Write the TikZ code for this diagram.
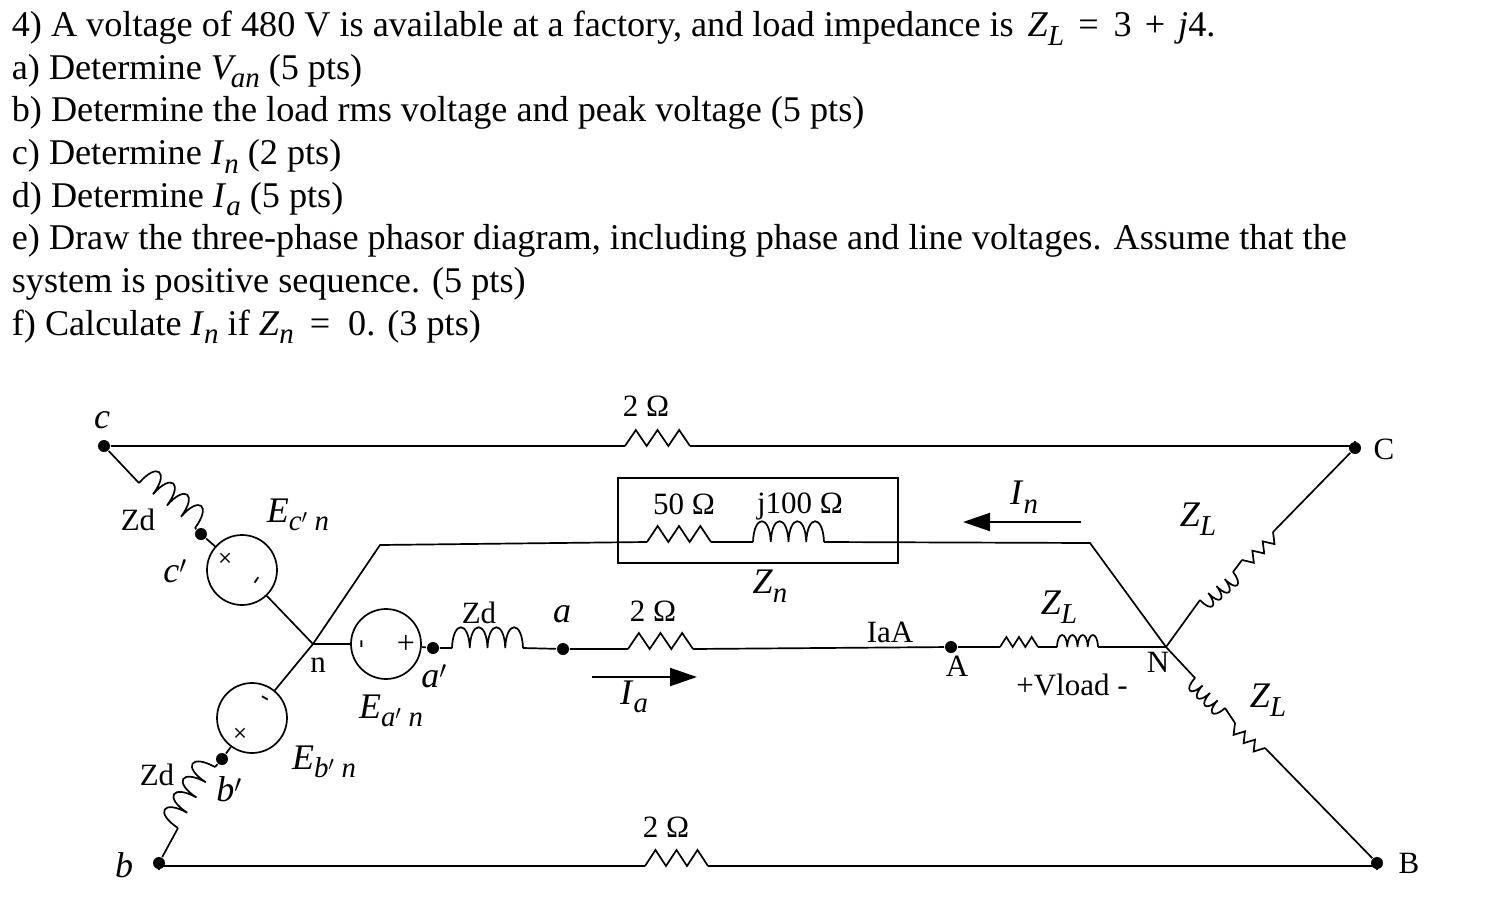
\documentclass[tikz,border=0pt]{standalone}
\usepackage{fontspec}
\setmainfont{Liberation Serif}
\usetikzlibrary{calc,arrows.meta}
\newcommand{\zsub}[2]{\textit{#1}\raisebox{-0.24em}{\scalebox{0.8}{\textit{#2}}}}
\newcommand{\drawcoil}[2]{\draw (#1) \foreach \k in {1,2,3,4} { to[hump] ($(#1)!\k/4!(#2)$) };}
\newcommand{\drawzig}[3]{\draw (#1) \foreach \k/\j in {1/2,3/4,5/6} { -- ($(#1)!\k/6!(#2)!#3pt!90:(#2)$) -- ($(#1)!\j/6!(#2)$) };}
\begin{document}
\begin{tikzpicture}[x=1pt, y=-1pt, line width=1.7pt, line join=miter,
	hump/.style = {bend left=88, looseness=4},
	dot/.style = {circle, fill, inner sep=0, minimum size=12pt},
	source/.style = {draw, circle, inner sep=0, minimum size=70pt},
	lab/.style = {inner sep=0, font=\fontsize{31}{36}\selectfont},
	vlab/.style = {inner sep=0, font=\fontsize{36}{42}\selectfont},
	sign/.style = {inner sep=0, font=\fontsize{26}{30}\selectfont},
	current/.style = {line width=2pt, -{Triangle[length=27pt,width=18pt]}}]

	\useasboundingbox (0,0) rectangle (1502,910);

	% question
	\node[inner sep=0, anchor=north west, align=left, font=\fontsize{36.2}{42.7}\selectfont] (question) at (11,10) {
		4) A voltage of 480 V is available at a factory, and load impedance is\hspace{5pt} \zsub{Z}{L}\hspace{14pt}=\hspace{15pt}3\hspace{13pt}+\hspace{13pt}\textit{j}4.\\
		a) Determine \zsub{V\kern-0.06em}{an} (5 pts)\\
		b) Determine the load rms voltage and peak voltage (5 pts)\\
		c) Determine \zsub{I}{n} (2 pts)\\
		d) Determine \zsub{I}{a} (5 pts)\\
		e) Draw the three-phase phasor diagram, including phase and line voltages. Assume that the\\
		system is positive sequence. (5 pts)\\
		f) Calculate \zsub{I}{n} if \zsub{Z}{n}\hspace{16pt}=\hspace{18pt}0. (3 pts)};

	% terminals
	\node[dot] (c) at (104,446) {};
	\node[dot] (C) at (1355,448) {};
	\node[dot] (b) at (159,863) {};
	\node[dot] (B) at (1377,863) {};
	\node[dot] (cp) at (201,534) {};
	\node[dot] (bp) at (222,759) {};
	\node[dot] (ap) at (433,648) {};
	\node[dot] (a) at (563,649) {};
	\node[dot] (A) at (951,647) {};

	% sources
	\node[source] (Ec) at (242,570) {};
	\node[source] (Eb) at (252,718) {};
	\node[source] (Ea) at (386,644) {};
	\coordinate (n) at (313,644);
	\coordinate (N) at (1166,647);

	% element ends
	\coordinate (rc1) at (625,446);
	\coordinate (rc2) at (690,446);
	\coordinate (rb1) at (645,866);
	\coordinate (rb2) at (708,866);
	\coordinate (ra1) at (628,649);
	\coordinate (ra2) at (693,649);
	\coordinate (rn1) at (647,542);
	\coordinate (rn2) at (711,542);
	\coordinate (ln1) at (753,542);
	\coordinate (ln2) at (824,542);
	\coordinate (da1) at (452,648);
	\coordinate (da2) at (523,648);
	\coordinate (dc1) at (139,483);
	\coordinate (dc2) at (195,528);
	\coordinate (db1) at (178,828);
	\coordinate (db2) at (215,767);
	\coordinate (rl1) at (1000,647);
	\coordinate (rl2) at (1038,647);
	\coordinate (ll1) at (1057,647);
	\coordinate (ll2) at (1098,647);
	\coordinate (rC1) at (1273,532);
	\coordinate (rC2) at (1242,560);
	\coordinate (lC1) at (1233,572);
	\coordinate (lC2) at (1200,600);
	\coordinate (lB1) at (1225,708);
	\coordinate (lB2) at (1195,678);
	\coordinate (rB1) at (1265,748);
	\coordinate (rB2) at (1235,723);
	\coordinate (k1) at (380,545);
	\coordinate (k2) at (1090,543);

	% wires
	\draw (c) -- (rc1);
	\draw (rc2) -- (rc2 -| C) -- (C);
	\draw (b) -- (rb1 -| b) -- (rb1);
	\draw (rb2) -- (rb2 -| B) -- (B);
	\draw (c) -- (dc1);
	\draw (dc2) -- (cp) -- (Ec);
	\draw (Ec) -- (n);
	\draw (b) -- (db1);
	\draw (db2) -- (bp) -- (Eb);
	\draw (Eb) -- (n);
	\draw (n) -- (Ea);
	\draw (Ea) -- (ap) -- (da1);
	\draw (da2) -- (a) -- (ra1);
	\draw (ra2) -- (A) -- (rl1);
	\draw (rl2) -- (ll1);
	\draw (ll2) -- (N);
	\draw (n) -- (k1) -- (rn1);
	\draw (rn2) -- (ln1);
	\draw (ln2) -- (k2) -- (N);
	\draw (C) -- (rC1);
	\draw (rC2) -- (lC1);
	\draw (lC2) -- (N);
	\draw (N) -- (lB2);
	\draw (lB1) -- (rB2);
	\draw (rB1) -- (B);

	% resistors and coils
	\drawzig{rc1}{rc2}{16}
	\drawzig{rb1}{rb2}{16}
	\drawzig{ra1}{ra2}{16}
	\drawzig{rn1}{rn2}{16}
	\drawzig{rl1}{rl2}{10}
	\drawzig{rC1}{rC2}{10}
	\drawzig{rB1}{rB2}{10}
	\drawcoil{ln1}{ln2}
	\drawcoil{da1}{da2}
	\drawcoil{dc1}{dc2}
	\drawcoil{db1}{db2}
	\drawcoil{ll1}{ll2}
	\drawcoil{lC1}{lC2}
	\drawcoil{lB1}{lB2}

	% neutral box and currents
	\node[draw, inner sep=0, minimum width=280pt, minimum height=85pt] (box) at (758,520.5) {};
	\coordinate (in1) at (1081,522);
	\coordinate (in2) at (963,522);
	\coordinate (ia1) at (592,677);
	\coordinate (ia2) at (697,677);
	\draw[current] (in1) -- (in2);
	\draw[current] (ia1) -- (ia2);

	% polarity
	\node[sign, rotate=90] (ma) at (364,644) {-};
	\node[sign, font=\fontsize{32}{36}\selectfont] (pa) at (406,644) {+};
	\node[sign, rotate=45, font=\fontsize{28}{32}\selectfont] (pc) at (226,559) {+};
	\node[sign, rotate=55] (mc) at (259,582) {-};
	\node[sign, rotate=45, font=\fontsize{28}{32}\selectfont] (pb) at (241,734) {+};
	\node[sign, rotate=-30] (mb) at (264,701) {-};

	% labels
	\node[vlab] (lc) at (102,420) {\textit{c}};
	\node[vlab] (lb) at (124,865) {\textit{b}};
	\node[vlab] (la) at (562,614) {\textit{a}};
	\node[vlab] (lcp) at (175,571) {\textit{c}$'$};
	\node[vlab] (lap) at (434,676) {\textit{a}$'$};
	\node[vlab] (lbp) at (229,789) {\textit{b}$'$};
	\node[lab] (lC) at (1384,449) {C};
	\node[lab] (lB) at (1409,863) {B};
	\node[lab] (lA) at (957,666) {A};
	\node[lab] (lN) at (1158,662) {N};
	\node[lab] (ln) at (318,665) {n};
	\node[lab] (r2c) at (646,406) {2 Ω};
	\node[lab] (r2b) at (666,827) {2 Ω};
	\node[lab] (r2a) at (653,611) {2 Ω};
	\node[lab] (r50) at (684,504) {50 Ω};
	\node[lab] (j100) at (800,506) {j100 Ω};
	\node[lab] (zda) at (479,613) {Zd};
	\node[lab] (zdc) at (138,520) {Zd};
	\node[lab] (zdb) at (157,775) {Zd};
	\node[lab] (iaa) at (890,632) {IaA};
	\node[lab] (vload) at (1072,685) {+Vload -};
	\node[vlab] (zn) at (770,586) {\zsub{Z}{n}};
	\node[vlab] (in) at (1024,497) {\zsub{I}{n}};
	\node[vlab] (ia) at (634,697) {\zsub{I}{a}};
	\node[vlab] (zlc) at (1198,519) {\zsub{Z}{L}};
	\node[vlab] (zla) at (1059,607) {\zsub{Z}{L}};
	\node[vlab] (zlb) at (1268,700) {\zsub{Z}{L}};
	\node[vlab] (ecn) at (298,515) {\zsub{E}{c$'$ n}};
	\node[vlab] (ean) at (391,711) {\zsub{E}{a$'$ n}};
	\node[vlab] (ebn) at (324,762) {\zsub{E}{b$'$ n}};
\end{tikzpicture}
\end{document}
